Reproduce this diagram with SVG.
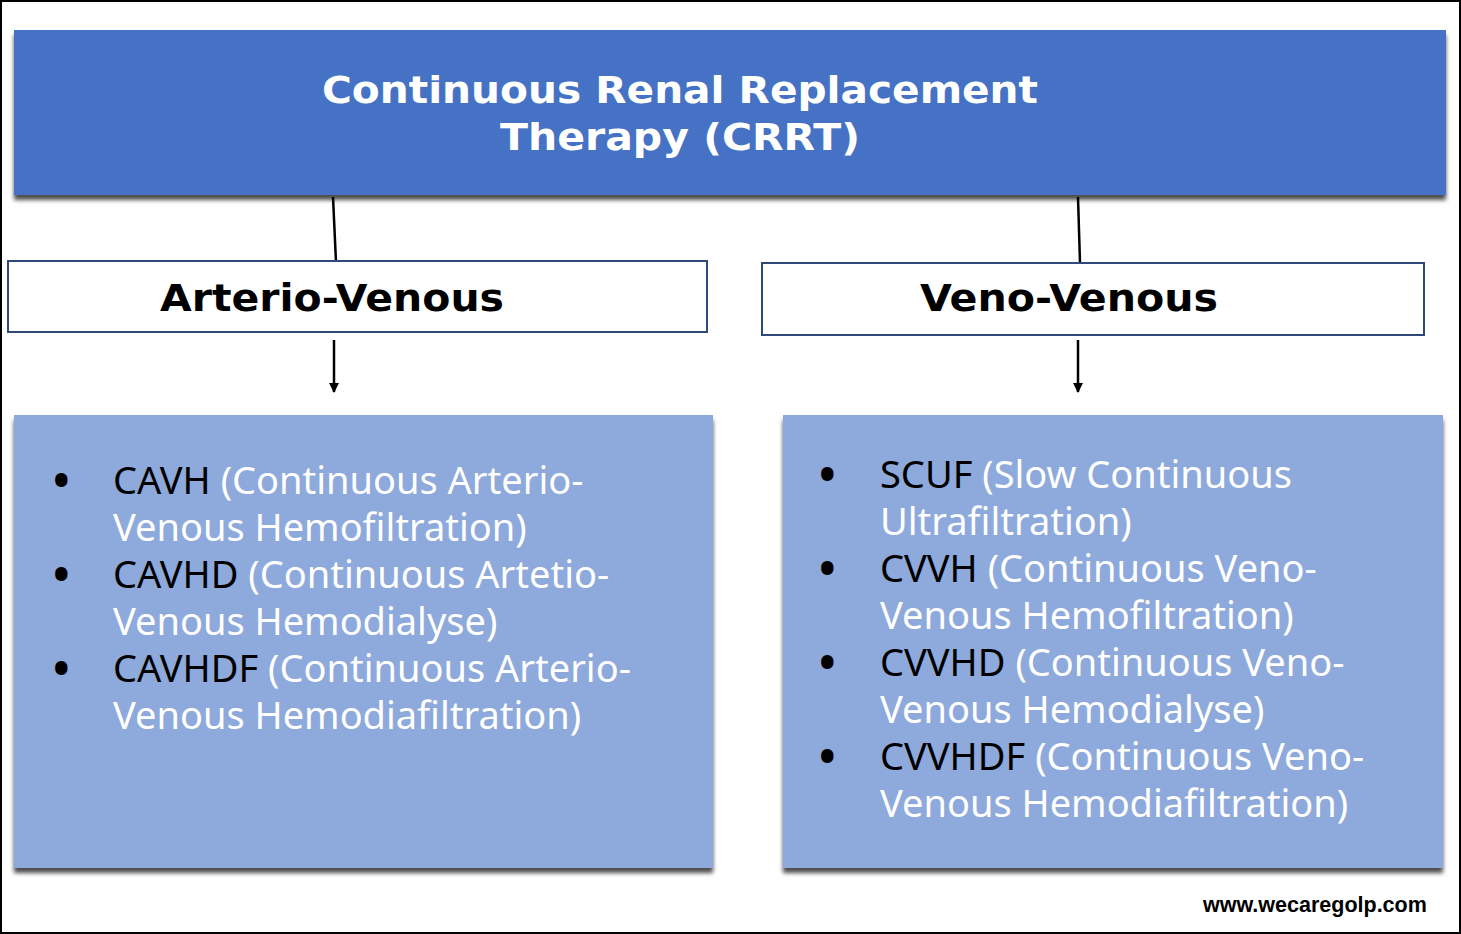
<svg xmlns="http://www.w3.org/2000/svg" width="1461" height="934" viewBox="0 0 1461 934">
<defs>
<style>
.t{font-family:"DejaVu Sans",sans-serif;font-weight:bold;fill:#fff;font-size:38px;text-anchor:middle}
.h{font-family:"DejaVu Sans",sans-serif;font-weight:bold;fill:#000;font-size:37px;text-anchor:middle}
.b{font-family:"Noto Sans","DejaVu Sans",sans-serif;font-size:38px;fill:#fff}
.k{fill:#000}
.d{fill:#000;font-size:44px;font-weight:bold}
.ln{stroke:#000;stroke-width:2.5;fill:none}
</style>
<marker id="a" markerWidth="10" markerHeight="10" refX="9" refY="5" orient="auto" markerUnits="userSpaceOnUse"><path d="M0,0L10,5L0,10z"/></marker>
<filter id="s" x="-5%" y="-5%" width="110%" height="115%"><feDropShadow dx="0" dy="5" stdDeviation="2" flood-color="#000" flood-opacity="0.7"/></filter>
</defs>
<rect x="1" y="1" width="1459" height="932" fill="#fff" stroke="#000" stroke-width="2"/>
<g id="connectors">
<path class="ln" d="M333,197L336,262"/>
<path class="ln" d="M1078,197L1080,263"/>
<path class="ln" d="M334,340L334,392" marker-end="url(#a)"/>
<path class="ln" d="M1078,340L1078,392" marker-end="url(#a)"/>
</g>
<g id="crrt"><rect x="14" y="30" width="1432" height="165" fill="#4472C4" filter="url(#s)"/>
<text class="t" x="680" y="103" textLength="716" lengthAdjust="spacingAndGlyphs">Continuous Renal Replacement</text>
<text class="t" x="680" y="150" textLength="360" lengthAdjust="spacingAndGlyphs">Therapy (CRRT)</text></g>
<g id="av"><rect x="8" y="261" width="699" height="71" fill="#fff" stroke="#2F4A7A" stroke-width="2"/>
<text class="h" x="332" y="311" textLength="344" lengthAdjust="spacingAndGlyphs">Arterio-Venous</text></g>
<g id="vv"><rect x="762" y="263" width="662" height="72" fill="#fff" stroke="#2F4A7A" stroke-width="2"/>
<text class="h" x="1069" y="311" textLength="298" lengthAdjust="spacingAndGlyphs">Veno-Venous</text></g>
<g id="avlist"><rect x="14" y="415" width="699" height="453" fill="#8EA9DB" filter="url(#s)"/>
<g class="b">
<text x="53" y="496" class="d">•</text><text x="113" y="494"><tspan class="k">CAVH</tspan> (Continuous Arterio-</text>
<text x="113" y="541">Venous Hemofiltration)</text>
<text x="53" y="590" class="d">•</text><text x="113" y="588"><tspan class="k">CAVHD</tspan> (Continuous Artetio-</text>
<text x="113" y="635">Venous Hemodialyse)</text>
<text x="53" y="684" class="d">•</text><text x="113" y="682"><tspan class="k">CAVHDF</tspan> (Continuous Arterio-</text>
<text x="113" y="729">Venous Hemodiafiltration)</text>
</g></g>
<g id="vvlist"><rect x="783" y="415" width="660" height="453" fill="#8EA9DB" filter="url(#s)"/>
<g class="b">
<text x="819" y="490" class="d">•</text><text x="880" y="488"><tspan class="k">SCUF</tspan> (Slow Continuous</text>
<text x="880" y="535">Ultrafiltration)</text>
<text x="819" y="584" class="d">•</text><text x="880" y="582"><tspan class="k">CVVH</tspan> (Continuous Veno-</text>
<text x="880" y="629">Venous Hemofiltration)</text>
<text x="819" y="678" class="d">•</text><text x="880" y="676"><tspan class="k">CVVHD</tspan> (Continuous Veno-</text>
<text x="880" y="723">Venous Hemodialyse)</text>
<text x="819" y="772" class="d">•</text><text x="880" y="770"><tspan class="k">CVVHDF</tspan> (Continuous Veno-</text>
<text x="880" y="817">Venous Hemodiafiltration)</text>
</g></g>
<text x="1203" y="912" font-family="Liberation Sans,Arial,sans-serif" font-weight="bold" font-size="21.5">www.wecaregolp.com</text>
</svg>
